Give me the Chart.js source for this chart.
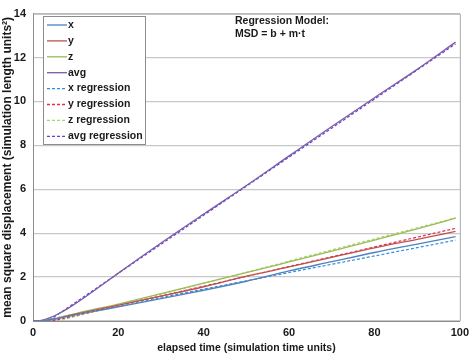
<!DOCTYPE html>
<html>
<head>
<meta charset="utf-8">
<script src="https://cdn.jsdelivr.net/npm/chart.js@4.4.1/dist/chart.umd.min.js"></script>
<style>
  html, body { margin: 0; padding: 0; background: #fff; }
  #wrap { width: 474px; height: 354px; }
</style>
</head>
<body>
<div id="wrap"><canvas id="msdChart" width="474" height="354"></canvas></div>
<script>
// values
const times = [0, 2, 4, 6, 8, 10, 15, 20, 30, 40, 50, 60, 70, 80, 90, 99];
const msdX   = [0, 0.01, 0.05, 0.12, 0.20, 0.28, 0.46, 0.64, 1.02, 1.40, 1.81, 2.28, 2.70, 3.12, 3.50, 3.84];
const msdY   = [0, 0.01, 0.05, 0.13, 0.22, 0.31, 0.52, 0.72, 1.13, 1.56, 2.04, 2.46, 2.90, 3.33, 3.72, 4.08];
const msdZ   = [0, 0.01, 0.06, 0.14, 0.24, 0.34, 0.56, 0.77, 1.25, 1.72, 2.20, 2.69, 3.18, 3.68, 4.20, 4.68];
const msdAvg = [0, 0.03, 0.15, 0.33, 0.55, 0.80, 1.48, 2.18, 3.55, 4.87, 6.17, 7.52, 8.86, 10.17, 11.46, 12.70];

// regression lines, value at start and end time
const regTimes = [0, 99];
const regX   = [-0.06, 3.68];
const regY   = [-0.20, 4.22];
const regZ   = [-0.30, 4.70];
const regAvg = [-0.47, 12.62];

const xTicks = [0, 20, 40, 60, 80, 100];
const yTicks = [0, 2, 4, 6, 8, 10, 12, 14];

function pts(ts, vs) {
  return ts.map((t, i) => ({ x: t, y: vs[i] }));
}

function solid(label, vals, color) {
  return { label, data: pts(times, vals), borderColor: color, borderWidth: 1.3,
           pointRadius: 0, showLine: true, cubicInterpolationMode: 'monotone', fill: false };
}
function dashed(label, vals, color) {
  return { label, data: pts(regTimes, vals), borderColor: color, borderWidth: 1.2,
           borderDash: [3, 2], pointRadius: 0, showLine: true, fill: false };
}

const FONT = "'Liberation Sans', Arial, sans-serif";

// legend box drawn inside the plot area + the model note
const boxLegend = {
  id: 'boxLegend',
  afterDraw(chart) {
    const ctx = chart.ctx;
    const a = chart.chartArea;
    ctx.save();
    // right and top frame of the plot
    ctx.strokeStyle = '#a8a8a8';
    ctx.lineWidth = 1;
    ctx.beginPath();
    ctx.moveTo(a.left, a.top + 0.5);
    ctx.lineTo(a.right + 0.5, a.top + 0.5);
    ctx.lineTo(a.right + 0.5, a.bottom);
    ctx.stroke();

    const bx = 43.5, by = 16.5, bw = 102, bh = 128;
    ctx.fillStyle = '#fff';
    ctx.fillRect(bx, by, bw, bh);
    ctx.strokeStyle = '#8c8c8c';
    ctx.strokeRect(bx, by, bw, bh);

    ctx.font = 'bold 10.5px ' + FONT;
    ctx.textBaseline = 'middle';
    chart.data.datasets.forEach((ds, i) => {
      const y = 25 + i * 15.9;
      ctx.strokeStyle = ds.borderColor;
      ctx.lineWidth = 1.3;
      ctx.setLineDash(ds.borderDash || []);
      ctx.beginPath();
      ctx.moveTo(47, y);
      ctx.lineTo(67, y);
      ctx.stroke();
      ctx.setLineDash([]);
      ctx.fillStyle = '#1a1a1a';
      ctx.fillText(ds.label, 68, y);
    });

    ctx.font = 'bold 10.5px ' + FONT;
    ctx.fillStyle = '#1a1a1a';
    ctx.fillText('Regression Model:', 235, 21);
    ctx.fillText('MSD = b + m\u00b7t', 235, 34);
    ctx.restore();
  }
};

const ctx = document.getElementById('msdChart').getContext('2d');
new Chart(ctx, {
  type: 'scatter',
  data: {
    datasets: [
      solid('x', msdX, '#4f81bd'),
      solid('y', msdY, '#c0504d'),
      solid('z', msdZ, '#9bbb59'),
      solid('avg', msdAvg, '#7a5ca6'),
      dashed('x regression', regX, '#2e8ee0'),
      dashed('y regression', regY, '#d9304f'),
      dashed('z regression', regZ, '#a9d46a'),
      dashed('avg regression', regAvg, '#6a3fd0')
    ]
  },
  options: {
    responsive: false,
    animation: false,
    devicePixelRatio: 1,
    layout: { padding: { top: 5, right: 8, left: 0, bottom: 0 } },
    plugins: { legend: { display: false }, tooltip: { enabled: false } },
    scales: {
      x: {
        type: 'linear', min: 0, max: 100,
        afterBuildTicks: s => { s.ticks = xTicks.map(v => ({ value: v })); },
        afterFit: s => { s.height = 33; },
        grid: { display: false, drawTicks: false },
        border: { color: '#8c8c8c', width: 1 },
        ticks: { color: '#1a1a1a', font: { family: FONT, size: 11, weight: 'bold' }, padding: 5, maxRotation: 0 },
        title: { display: true, text: 'elapsed time (simulation time units)', color: '#1a1a1a',
                 font: { family: FONT, size: 10.5, weight: 'bold' }, padding: { top: 1, bottom: 0 } }
      },
      y: {
        min: 0, max: 14,
        afterBuildTicks: s => { s.ticks = yTicks.map(v => ({ value: v })); },
        afterFit: s => { s.width = 33; },
        grid: { color: '#c8c8c8', lineWidth: 1.2, drawTicks: false },
        border: { color: '#8c8c8c', width: 1 },
        ticks: { color: '#1a1a1a', font: { family: FONT, size: 11, weight: 'bold' }, padding: 7 },
        title: { display: true, text: 'mean square displacement (simulation length units\u00b2)', color: '#1a1a1a',
                 font: { family: FONT, size: 12, weight: 'bold' }, padding: { top: 0, bottom: 0 } }
      }
    }
  },
  plugins: [boxLegend]
});
</script>
</body>
</html>
